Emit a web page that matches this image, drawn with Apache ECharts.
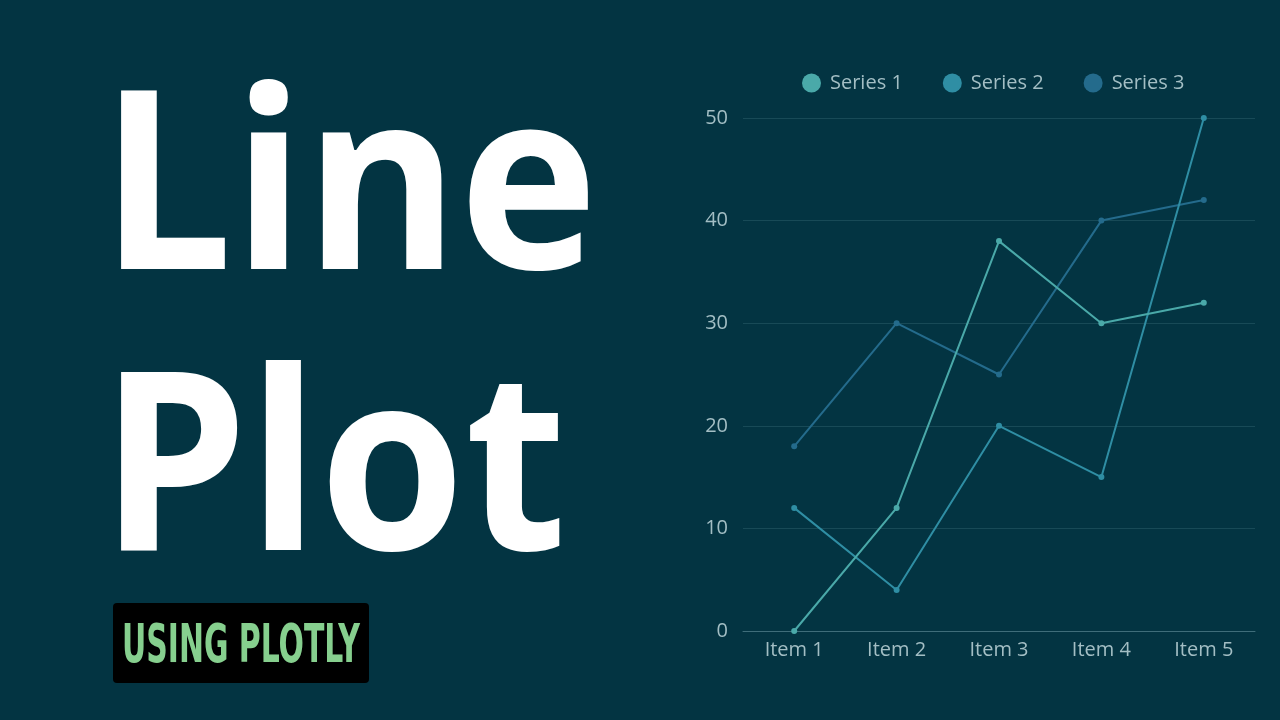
<!DOCTYPE html>
<html>
<head>
<meta charset="utf-8">
<script src="https://cdn.jsdelivr.net/npm/echarts@6/dist/echarts.min.js"></script>
<style>
html,body{margin:0;padding:0;background:#033442;}
#chart{width:1280px;height:720px;}
</style>
</head>
<body>
<div id="chart"></div>
<script>
const categories = ['Item 1', 'Item 2', 'Item 3', 'Item 4', 'Item 5'];
const series1 = [0, 12, 38, 30, 32];
const series2 = [12, 4, 20, 15, 50];
const series3 = [18, 30, 25, 40, 42];
const seriesNames = ['Series 1', 'Series 2', 'Series 3'];
const colors = ['#4aa9a9', '#2f8ea4', '#246b8c'];

const chart = echarts.init(document.getElementById('chart'));
const labelColor = '#a3bec4';
const option = {
  backgroundColor: '#033442',
  animation: false,
  color: colors,
  legend: {
    left: 797,
    top: 68,
    icon: 'circle',
    itemWidth: 19,
    itemHeight: 19,
    itemGap: 40,
    data: seriesNames,
    textStyle: { color: labelColor, fontSize: 20, fontFamily: 'Open Sans', padding: [0, 0, 0, 4] }
  },
  grid: { left: 743, right: 25, top: 118, bottom: 89 },
  xAxis: {
    type: 'category',
    data: categories,
    boundaryGap: true,
    axisLine: { lineStyle: { color: '#3f6d7a', width: 1 } },
    axisTick: { show: false },
    axisLabel: { color: labelColor, fontSize: 20, fontFamily: 'Open Sans', margin: 9 }
  },
  yAxis: {
    type: 'value',
    min: 0, max: 50, interval: 10,
    axisLine: { show: false },
    axisTick: { show: false },
    splitLine: { lineStyle: { color: '#184a57', width: 1 } },
    axisLabel: { color: labelColor, fontSize: 20, fontFamily: 'Open Sans', margin: 15 }
  },
  series: [
    { name: seriesNames[0], type: 'line', data: series1, symbol: 'circle', symbolSize: 6, lineStyle: { width: 2 }, z: 3 },
    { name: seriesNames[1], type: 'line', data: series2, symbol: 'circle', symbolSize: 6, lineStyle: { width: 2 }, z: 2 },
    { name: seriesNames[2], type: 'line', data: series3, symbol: 'circle', symbolSize: 6, lineStyle: { width: 2 }, z: 1 }
  ],
  graphic: [
    { type: 'text', x: 100, y: 198, scaleX: 0.94, style: { text: 'Line', fill: '#ffffff', font: 'bold 250px "Open Sans"', verticalAlign: 'middle', align: 'left' } },
    { type: 'text', x: 100, y: 479, scaleX: 0.94, style: { text: 'Plot', fill: '#ffffff', font: 'bold 250px "Open Sans"', verticalAlign: 'middle', align: 'left' } },
    { type: 'rect', shape: { x: 113, y: 603, width: 256, height: 80, r: 4 }, style: { fill: '#000000' } },
    { type: 'text', x: 122, y: 648, scaleX: 0.615, style: { text: 'USING PLOTLY', fill: '#86cf8e', font: 'bold 54px "DejaVu Sans Condensed", sans-serif', verticalAlign: 'middle', align: 'left' } }
  ]
};
chart.setOption(option);
</script>
</body>
</html>
